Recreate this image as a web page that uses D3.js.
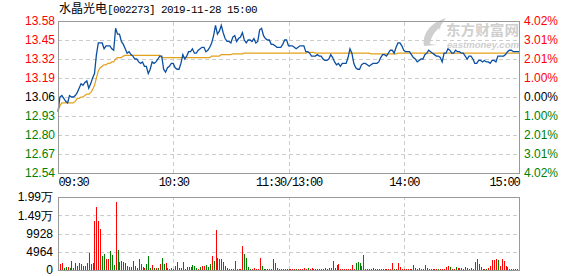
<!DOCTYPE html>
<html>
<head>
<meta charset="utf-8">
<script src="https://cdn.jsdelivr.net/npm/d3@7"></script>
<style>
  html, body { margin: 0; padding: 0; background: #fff; }
  svg { display: block; }
</style>
</head>
<body>
<div id="chart"></div>
<script>
const W = 578, H = 276;
const X0 = 58, X1 = 519;          // plot left / right
const PT = 21, PB = 173;          // price panel top / bottom
const VT = 197, VB = 270;         // volume panel top / bottom

const TITLE_NAME = "水晶光电";
const TITLE_REST = "[002273] 2019-11-28 15:00";

const PRICE_TICKS = [13.58, 13.45, 13.32, 13.19, 13.06, 12.93, 12.80, 12.67, 12.54];
const PCT_LABELS = ["4.02%", "3.01%", "2.01%", "1.00%", "0.00%", "1.00%", "2.01%", "3.01%", "4.02%"];
const PRE_CLOSE = 13.06;
const TIME_TICKS = [0, 60, 120, 180, 240];
const TIME_LABELS = ["09:30", "10:30", "11:30/13:00", "14:00", "15:00"];
const VOL_TICKS = [19856, 14892, 9928, 4964, 0];
const VOL_LABELS = ["1.99万", "1.49万", "9928", "4964", "0"];

// minute-by-minute price, 09:30 .. 15:00 (241 points)
const PRICE = [
  12.96,13.06,13.07,13.05,13.03,13.02,13.07,13.06,13.06,13.07,
  13.09,13.12,13.15,13.14,13.16,13.17,13.12,13.15,13.19,13.22,
  13.35,13.43,13.43,13.43,13.39,13.41,13.41,13.41,13.39,13.38,
  13.53,13.49,13.49,13.44,13.42,13.39,13.36,13.37,13.35,13.34,
  13.32,13.32,13.30,13.29,13.30,13.27,13.27,13.22,13.25,13.30,
  13.29,13.30,13.32,13.34,13.34,13.25,13.23,13.26,13.27,13.29,
  13.29,13.26,13.25,13.25,13.29,13.35,13.32,13.34,13.37,13.37,
  13.39,13.36,13.36,13.38,13.39,13.40,13.40,13.37,13.38,13.40,
  13.43,13.48,13.55,13.49,13.51,13.55,13.50,13.46,13.44,13.44,
  13.43,13.47,13.48,13.44,13.46,13.47,13.50,13.45,13.43,13.45,
  13.45,13.44,13.46,13.43,13.44,13.52,13.53,13.48,13.46,13.45,
  13.45,13.42,13.42,13.41,13.40,13.40,13.40,13.42,13.45,13.45,
  13.41,13.41,13.41,13.40,13.39,13.40,13.41,13.41,13.41,13.37,
  13.37,13.36,13.34,13.34,13.34,13.35,13.34,13.34,13.32,13.31,
  13.31,13.32,13.35,13.33,13.30,13.28,13.29,13.27,13.29,13.29,
  13.29,13.33,13.39,13.36,13.29,13.26,13.25,13.25,13.28,13.29,
  13.29,13.28,13.27,13.28,13.29,13.29,13.29,13.30,13.33,13.35,
  13.35,13.34,13.36,13.38,13.38,13.36,13.40,13.43,13.43,13.41,
  13.38,13.37,13.37,13.37,13.35,13.33,13.32,13.30,13.31,13.32,
  13.32,13.35,13.36,13.38,13.37,13.36,13.35,13.34,13.34,13.33,
  13.30,13.36,13.36,13.39,13.38,13.36,13.36,13.38,13.37,13.37,
  13.36,13.36,13.34,13.32,13.34,13.34,13.32,13.29,13.29,13.31,
  13.31,13.30,13.31,13.30,13.30,13.29,13.31,13.31,13.30,13.34,
  13.34,13.34,13.34,13.35,13.37,13.38,13.38,13.37,13.37,13.37,
  13.37
];

// average price line
const AVG = [
  12.96,13.00,13.02,13.02,13.02,13.02,13.02,13.02,13.02,13.03,
  13.05,13.05,13.06,13.06,13.07,13.08,13.08,13.09,13.11,13.14,
  13.19,13.24,13.26,13.27,13.28,13.28,13.29,13.29,13.30,13.30,
  13.32,13.33,13.33,13.33,13.34,13.345,13.345,13.345,13.345,13.345,
  13.345,13.345,13.345,13.345,13.345,13.345,13.345,13.345,13.345,13.345,
  13.345,13.345,13.345,13.345,13.33,13.33,13.33,13.33,13.33,13.33,
  13.33,13.33,13.33,13.33,13.33,13.33,13.33,13.33,13.33,13.33,
  13.33,13.33,13.33,13.33,13.33,13.33,13.33,13.33,13.33,13.33,
  13.34,13.34,13.34,13.34,13.34,13.35,13.35,13.35,13.35,13.35,
  13.35,13.355,13.355,13.355,13.355,13.355,13.355,13.36,13.36,13.36,
  13.36,13.36,13.36,13.36,13.36,13.36,13.36,13.36,13.36,13.36,
  13.36,13.36,13.36,13.36,13.36,13.36,13.36,13.36,13.36,13.36,
  13.36,13.36,13.36,13.36,13.36,13.36,13.36,13.36,13.36,13.36,
  13.365,13.365,13.365,13.365,13.36,13.36,13.36,13.36,13.36,13.36,
  13.36,13.36,13.36,13.36,13.36,13.36,13.36,13.36,13.36,13.36,
  13.36,13.36,13.36,13.36,13.36,13.36,13.36,13.36,13.36,13.36,
  13.36,13.36,13.36,13.355,13.355,13.355,13.355,13.355,13.355,13.355,
  13.355,13.355,13.355,13.355,13.355,13.355,13.355,13.36,13.36,13.36,
  13.36,13.36,13.36,13.36,13.36,13.36,13.36,13.36,13.36,13.36,
  13.36,13.36,13.36,13.36,13.36,13.36,13.36,13.36,13.36,13.36,
  13.36,13.36,13.36,13.36,13.36,13.36,13.36,13.36,13.36,13.36,
  13.36,13.36,13.36,13.36,13.36,13.36,13.36,13.36,13.36,13.36,
  13.36,13.36,13.36,13.36,13.36,13.36,13.36,13.36,13.36,13.36,
  13.36,13.36,13.36,13.36,13.36,13.36,13.36,13.36,13.36,13.36,
  13.36
];

// volume per minute (shares/100)
const VOL = [
  1360,1630,1900,630,820,820,540,2450,460,1820,
  1170,1820,1550,1170,1010,1820,4540,1550,1820,13330,
  17140,13330,11070,3890,4350,2910,2910,5170,4000,1360,
  18500,5440,2180,2450,2180,1990,1170,900,900,2530,
  1010,630,2910,1550,900,460,1550,3810,630,1360,
  630,630,460,1550,3180,1710,1900,460,350,460,
  350,1090,2180,460,540,2180,350,820,820,730,
  1360,1090,460,350,820,1010,1010,1360,900,1630,
  3810,2450,10880,3350,2910,2910,2260,1170,460,350,
  350,350,2450,350,350,350,6530,4350,3260,730,
  350,350,540,350,350,3350,1170,350,350,350,
  350,350,2910,1820,630,350,350,350,350,350,
  350,270,270,270,270,270,270,270,460,270,
  460,270,540,270,270,270,270,270,270,540,
  270,460,630,2530,630,1360,1550,350,270,270,
  270,270,270,1360,350,1990,2180,1900,1170,4080,
  270,270,270,270,540,270,270,270,270,270,
  270,270,270,270,1900,270,270,1900,820,270,
  270,270,270,270,270,1280,460,270,540,270,
  270,1280,630,270,270,270,270,270,270,270,
  270,270,730,1090,820,270,270,820,460,460,
  460,270,820,540,270,540,270,2260,2910,1710,
  900,270,350,270,630,1010,2640,2720,2910,2720,
  1170,2910,2530,1090,900,350,270,270,270,270,
  1820
];

// r = up bar, g = down bar
const VOL_DIR = (
  "rrrggrgggr" + "rrrrgggrrr" + "rrrggrrggg" + "rgrrggrggg" + "rggrgrgggr" +
  "grgrggrggr" + "rgggrrrrrr" + "gggrgrrggg" + "rgrggrrggg" + "rrrgrrrggg" +
  "grrrrrggrr" + "rggrgrrrrr" + "r" +
  "rrrgrrrrrg" + "rrrrrrrrgr" + "rrgrgrrrrr" + "rrrrgggrrr" + "rrrrrrrrrr" +
  "rrrrgrrrrr" + "rrrrgrrgrr" + "rrrrrrrgrr" + "rrrgrrgrrr" + "rrrrgrgrrg" +
  "rrgrrrrrgr" + "rrrrrrrrrg"
).split("");

const RED = "#ff0000", GREEN = "#008000", BLACK = "#000000";
const GRID = "#cccccc", FRAME = "#999999";
const NUM_FONT = "'Liberation Sans', Arial, sans-serif";
const MONO_FONT = "'Liberation Mono', 'DejaVu Sans Mono', monospace";
const CJK_FONT = "'Noto Sans CJK SC', sans-serif";

const svg = d3.select("#chart").append("svg")
  .attr("width", W).attr("height", H)
  .style("background", "#fff");

const x = d3.scaleLinear().domain([0, 240]).range([X0, X1]);
const yP = d3.scaleLinear().domain([12.54, 13.58]).range([PB, PT]);
const yV = d3.scaleLinear().domain([0, 19856]).range([VB, VT]);

function levelColor(v) {
  if (Math.abs(v - PRE_CLOSE) < 1e-6) return BLACK;
  return v > PRE_CLOSE ? RED : GREEN;
}

// title
const title = svg.append("text").attr("x", 59).attr("y", 13).attr("fill", "#000");
title.append("tspan").attr("font-family", CJK_FONT).attr("font-size", 12).text(TITLE_NAME);
title.append("tspan").attr("font-family", MONO_FONT).attr("font-size", 11)
  .attr("letter-spacing", "-0.6px").text(TITLE_REST);

// watermark
const wm = svg.append("g").attr("fill", "#cfcfcf");
wm.append("path")
  .attr("d", "M424,46 C422,34 430,23 446,18 C439,27 436,35 437,45 Z M430,44 C431,36 436,30 441,27 C437,33 436,39 437,45 Z")
  .attr("fill-rule", "evenodd");
wm.append("text").attr("x", 446).attr("y", 35)
  .attr("font-family", CJK_FONT).attr("font-weight", "bold").attr("font-size", 14)
  .attr("textLength", 73).attr("lengthAdjust", "spacingAndGlyphs")
  .text("东方财富网");
wm.append("text").attr("x", 447).attr("y", 48)
  .attr("font-family", NUM_FONT).attr("font-weight", "bold").attr("font-style", "italic")
  .attr("font-size", 9.5).attr("textLength", 72).attr("lengthAdjust", "spacingAndGlyphs")
  .text("eastmoney.com");

// grid lines
function hGrid(scale, ticks, top, bottom) {
  svg.append("g")
    .attr("transform", "translate(" + X0 + ",0)")
    .call(d3.axisLeft(scale).tickValues(ticks).tickSize(-(X1 - X0)).tickFormat(""))
    .call(g => g.select(".domain").remove())
    .call(g => g.selectAll("line").attr("stroke", GRID).attr("stroke-dasharray", "4,3")
      .attr("shape-rendering", "crispEdges"));
  svg.append("g")
    .attr("transform", "translate(0," + bottom + ")")
    .call(d3.axisBottom(x).tickValues([60, 120, 180]).tickSize(-(bottom - top)).tickFormat(""))
    .call(g => g.select(".domain").remove())
    .call(g => g.selectAll("line").attr("stroke", GRID).attr("stroke-dasharray", "4,3")
      .attr("shape-rendering", "crispEdges"));
}
hGrid(yP, PRICE_TICKS.slice(1, -1), PT, PB);
hGrid(yV, VOL_TICKS.slice(1, -1), VT, VB);

// price + average lines
const line = d3.line().x((d, i) => x(i)).y(d => yP(d));
svg.append("path").datum(AVG).attr("d", line)
  .attr("fill", "none").attr("stroke", "#e3a11b").attr("stroke-width", 1.2);
svg.append("path").datum(PRICE).attr("d", line)
  .attr("fill", "none").attr("stroke", "#0b4fa3").attr("stroke-width", 1.3);

// volume bars
svg.append("g").selectAll("rect")
  .data(VOL)
  .enter()
  .append("rect")
  .attr("x", (d, i) => Math.round(x(i)))
  .attr("width", 1)
  .attr("y", d => Math.min(yV(d), VB - 1))
  .attr("height", d => Math.max(VB - yV(d), 1))
  .attr("fill", (d, i) => VOL_DIR[i] === "g" ? GREEN : RED)
  .attr("shape-rendering", "crispEdges");

// frames
[[PT, PB], [VT, VB]].forEach(([t, b]) => {
  svg.append("rect").attr("x", X0).attr("y", t).attr("width", X1 - X0).attr("height", b - t)
    .attr("fill", "none").attr("stroke", FRAME).attr("shape-rendering", "crispEdges");
});

// left price labels
svg.append("g")
  .attr("transform", "translate(" + X0 + ",0)")
  .call(d3.axisLeft(yP).tickValues(PRICE_TICKS).tickSize(0).tickPadding(3)
    .tickFormat(d3.format(".2f")))
  .call(g => g.select(".domain").remove())
  .call(g => g.selectAll("text").attr("font-family", NUM_FONT).attr("font-size", 12)
    .attr("fill", d => levelColor(d)));

// right percent labels
svg.append("g")
  .attr("transform", "translate(" + X1 + ",0)")
  .call(d3.axisRight(yP).tickValues(PRICE_TICKS).tickSize(0).tickPadding(5)
    .tickFormat((d, i) => PCT_LABELS[i]))
  .call(g => g.select(".domain").remove())
  .call(g => g.selectAll("text").attr("font-family", NUM_FONT).attr("font-size", 12)
    .attr("fill", d => levelColor(d)));

// time labels
svg.append("g")
  .attr("transform", "translate(0," + PB + ")")
  .call(d3.axisBottom(x).tickValues(TIME_TICKS).tickSize(0).tickPadding(4)
    .tickFormat((d, i) => TIME_LABELS[i]))
  .call(g => g.select(".domain").remove())
  .call(g => g.selectAll("text").attr("font-family", MONO_FONT).attr("font-size", 12)
    .attr("letter-spacing", "-1.2px").attr("fill", "#000")
    .attr("text-anchor", (d, i) => i === 0 ? "start" : (i === TIME_TICKS.length - 1 ? "end" : "middle")));

// volume labels
svg.append("g")
  .attr("transform", "translate(" + X0 + ",0)")
  .call(d3.axisLeft(yV).tickValues(VOL_TICKS).tickSize(0).tickPadding(5)
    .tickFormat((d, i) => VOL_LABELS[i]))
  .call(g => g.select(".domain").remove())
  .call(g => g.selectAll("text").attr("font-family", NUM_FONT).attr("font-size", 12)
    .attr("fill", "#000"));
</script>
</body>
</html>
